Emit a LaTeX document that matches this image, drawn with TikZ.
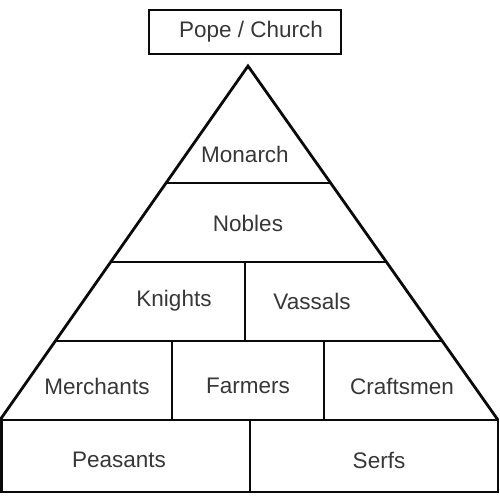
\documentclass[tikz,border=0pt]{standalone}
\usepackage{fontspec}
\setmainfont{Liberation Sans}
\usepackage{tikz}
\usetikzlibrary{calc}
\definecolor{pyedge}{RGB}{10,10,10}
\definecolor{pytext}{RGB}{55,55,55}
\tikzset{
  tier/.style={draw=pyedge, line width=2.8pt, line join=miter},
  lbl/.style={text=pytext, inner sep=0pt, font=\fontsize{22.5}{27}\selectfont},
  every picture/.append style={x=1pt, y=-1pt}
}
\begin{document}
\begin{tikzpicture}
  \useasboundingbox (0,0) rectangle (500,500);
  % top box
  \node[tier, minimum width=192pt, minimum height=44pt, inner sep=0pt] (pope) at (245,32) {};
  \node[lbl] (popetxt) at (251,32) {Pope / Church};
  % pyramid outline
  \coordinate (apex) at (248,66);
  \coordinate (bl) at (0,420);
  \coordinate (br) at (498,420);
  \draw[tier] (bl) -- (apex) -- (br);
  % rows
  \draw[tier] (166,183) -- (331,183);
  \draw[tier] (110,262) -- (387,262);
  \draw[tier] (55,341) -- (442,341);
  \draw[tier] (245,262) -- (245,341);
  \draw[tier] (172,341) -- (172,420);
  \draw[tier] (324,341) -- (324,420);
  % base block
  \draw[tier] (1.5,420) rectangle (498,492);
  \draw[tier] (250,420) -- (250,492);
  % labels
  \node[lbl] (monarch) at (245,154) {Monarch};
  \node[lbl] (nobles) at (248,223) {Nobles};
  \node[lbl] (knights) at (174,301) {Knights};
  \node[lbl] (vassals) at (312,301) {Vassals};
  \node[lbl] (merchants) at (97,386) {Merchants};
  \node[lbl] (farmers) at (248,386) {Farmers};
  \node[lbl] (craftsmen) at (402,386) {Craftsmen};
  \node[lbl] (peasants) at (119,460) {Peasants};
  \node[lbl] (serfs) at (379,460) {Serfs};
\end{tikzpicture}
\end{document}
